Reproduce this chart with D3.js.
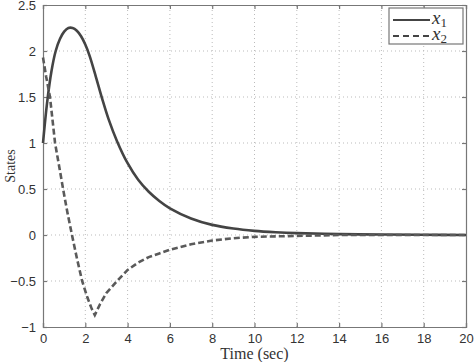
<!DOCTYPE html>
<html>
<head>
<meta charset="utf-8">
<script src="https://cdn.jsdelivr.net/npm/d3@7"></script>
<style>
  body { margin: 0; background: #fff; }
  svg { display: block; }
</style>
</head>
<body>
<svg id="chart"></svg>
<script>
// state x1 (solid)
const t1 = [0, 0.2, 0.4, 0.6, 0.8, 1.0, 1.2, 1.4, 1.6, 1.8, 2.0, 2.2, 2.5, 2.8, 3.1, 3.5, 4, 4.5, 5, 5.5, 6, 7, 8, 9, 10, 11, 12, 14, 16, 18, 20];
const x1 = [1.0, 1.45, 1.78, 2.0, 2.13, 2.21, 2.25, 2.25, 2.22, 2.16, 2.07, 1.95, 1.72, 1.48, 1.26, 1.02, 0.78, 0.6, 0.47, 0.37, 0.29, 0.18, 0.11, 0.07, 0.045, 0.03, 0.02, 0.01, 0.005, 0.002, 0.0];
// state x2 (dashed)
const t2 = [0, 0.15, 0.33, 0.57, 0.8, 0.95, 1.15, 1.37, 1.6, 1.85, 2.1, 2.3, 2.45, 2.7, 3, 3.5, 4, 4.5, 5, 5.5, 6, 7, 8, 9, 10, 12, 14, 16, 18, 20];
const x2 = [1.93, 1.72, 1.5, 1.0, 0.7, 0.5, 0.25, 0.0, -0.25, -0.5, -0.68, -0.8, -0.87, -0.75, -0.63, -0.5, -0.38, -0.3, -0.24, -0.2, -0.16, -0.1, -0.06, -0.035, -0.02, -0.01, 0.0, 0.0, 0.0, 0.0];

const xTicks = [0, 2, 4, 6, 8, 10, 12, 14, 16, 18, 20];
const yTicks = [-1, -0.5, 0, 0.5, 1, 1.5, 2, 2.5];
const legendLabels = ["1", "2"];

const W = 474, H = 362;
const m = { top: 5, right: 8, bottom: 35, left: 43 };

const svg = d3.select("#chart").attr("width", W).attr("height", H);

const x = d3.scaleLinear().domain([0, 20]).range([m.left, W - m.right]);
const y = d3.scaleLinear().domain([-1, 2.5]).range([H - m.bottom, m.top]);

const axisColor = "#777";
const lineColor = "#444";
const tickFont = "Arial, 'Liberation Sans', sans-serif";
const serif = "'Liberation Serif', 'Times New Roman', serif";

// grid
const grid = svg.append("g");
grid.selectAll(".gx").data(xTicks.slice(1, -1)).enter().append("line")
  .attr("x1", d => x(d)).attr("x2", d => x(d))
  .attr("y1", y(-1)).attr("y2", y(2.5))
  .attr("stroke", "#bbb").attr("stroke-width", 1).attr("stroke-dasharray", "1,3");
grid.selectAll(".gy").data(yTicks.slice(1, -1)).enter().append("line")
  .attr("y1", d => y(d)).attr("y2", d => y(d))
  .attr("x1", x(0)).attr("x2", x(20))
  .attr("stroke", "#bbb").attr("stroke-width", 1).attr("stroke-dasharray", "1,3");

// axes
const xAxis = d3.axisBottom(x).tickValues(xTicks).tickSize(-4).tickPadding(7).tickFormat(d3.format("d"));
const yAxis = d3.axisLeft(y).tickValues(yTicks).tickSize(-4).tickPadding(7)
  .tickFormat(d => d < 0 ? "\u2212" + Math.abs(d) : String(d));
const xTop = d3.axisTop(x).tickValues(xTicks).tickSize(-4).tickFormat("");
const yRight = d3.axisRight(y).tickValues(yTicks).tickSize(-4).tickFormat("");

function styleAxis(g) {
  g.attr("font-family", null);
  g.selectAll("path, line").attr("stroke", axisColor).attr("stroke-width", 1.2);
  g.selectAll("text").attr("fill", "#333").style("font-family", tickFont).style("font-size", "13px");
}
svg.append("g").attr("transform", `translate(0,${y(-1)})`).call(xAxis).call(styleAxis);
svg.append("g").attr("transform", `translate(${x(0)},0)`).call(yAxis).call(styleAxis);
svg.append("g").attr("transform", `translate(0,${y(2.5)})`).call(xTop).call(styleAxis);
svg.append("g").attr("transform", `translate(${x(20)},0)`).call(yRight).call(styleAxis);

// series
const line = d3.line().x(d => x(d[0])).y(d => y(d[1])).curve(d3.curveCatmullRom);
svg.append("path").datum(d3.zip(t1, x1)).attr("d", line)
  .attr("fill", "none").attr("stroke", lineColor).attr("stroke-width", 2.6);
svg.append("path").datum(d3.zip(t2, x2)).attr("d", d3.line().x(d => x(d[0])).y(d => y(d[1])))
  .attr("fill", "none").attr("stroke", "#5a5a5a").attr("stroke-width", 2.6).attr("stroke-dasharray", "6,3");

// labels
svg.append("text").attr("x", (x(0) + x(20)) / 2).attr("y", H - 3)
  .attr("text-anchor", "middle").style("font-family", serif).style("font-size", "16px")
  .attr("fill", "#333").text("Time (sec)");
svg.append("text").attr("transform", `translate(15,${(y(-1) + y(2.5)) / 2}) rotate(-90)`)
  .attr("text-anchor", "middle").style("font-family", serif).style("font-size", "14px")
  .attr("fill", "#333").text("States");

// legend
const lg = svg.append("g").attr("transform", "translate(389,8)");
lg.append("rect").attr("width", 74).attr("height", 36)
  .attr("fill", "#fff").attr("stroke", "#777").attr("stroke-width", 1.2);
legendLabels.forEach((lab, i) => {
  const ly = 12 + i * 16;
  lg.append("line").attr("x1", 4).attr("x2", 41).attr("y1", ly).attr("y2", ly)
    .attr("stroke", lineColor).attr("stroke-width", 2)
    .attr("stroke-dasharray", i === 1 ? "6,4" : null);
  const tx = lg.append("text").attr("x", 43).attr("y", ly + 4)
    .style("font-family", serif).style("font-size", "19px").attr("fill", "#333");
  tx.append("tspan").style("font-style", "italic").text("x");
  tx.append("tspan").attr("dy", 3).style("font-size", "13px").text(lab);
});
</script>
</body>
</html>
